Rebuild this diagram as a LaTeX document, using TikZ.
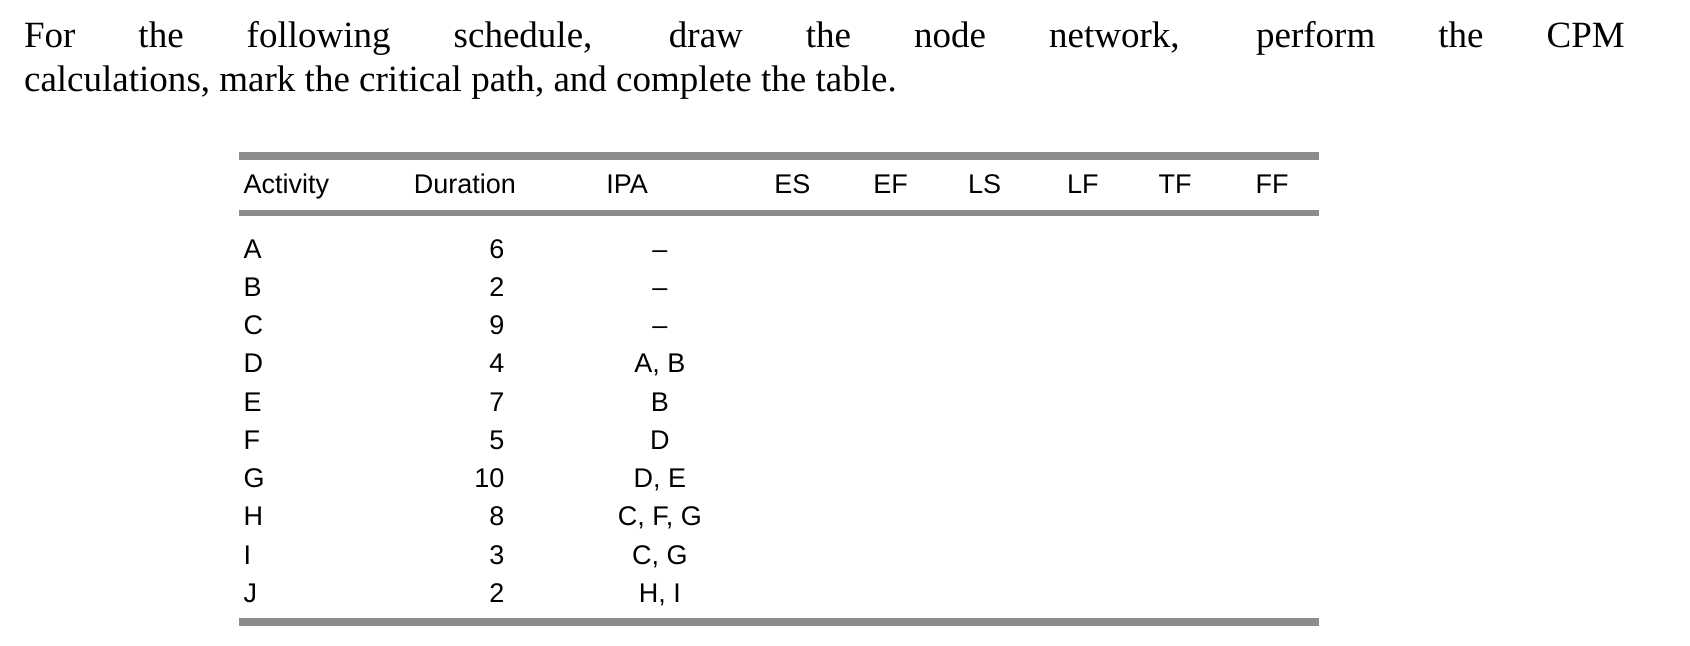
\documentclass[tikz,border=0pt]{standalone}
\usepackage{fontspec}
\setmainfont{Liberation Serif}
\newfontfamily\tabfont{Liberation Sans}
\begin{document}
\begin{tikzpicture}[x=0.538pt,y=-0.538pt,
  rulebar/.style={fill=black!45,draw=none},
  hd/.style={font=\tabfont\fontsize{13.5}{15}\selectfont,anchor=base west,inner sep=0},
  cell/.style={font=\tabfont\fontsize{13.5}{15}\selectfont,inner sep=0}]
\useasboundingbox (0,0) rectangle (1570,600);
\node[anchor=north west,inner sep=0,text width=800pt,align=justify,
  font=\fontsize{18.5}{21.5}\selectfont] (q) at (22,20)
  {For the following schedule, draw the node network, perform the CPM\linebreak calculations, mark the critical path, and complete the table.};
\fill[rulebar] (222,141) rectangle (1225,149);
\fill[rulebar] (222,195) rectangle (1225,201);
\fill[rulebar] (222,574) rectangle (1225,582);
\foreach \t/\x in {Activity/226,Duration/384,IPA/563,ES/719,EF/811,LS/899,LF/991,TF/1076,FF/1166}
  \node[hd] (h\t) at (\x,180) {\t};
\foreach \a/\d/\p [count=\i from 0] in {A/6/–,B/2/–,C/9/–,D/4/{A, B},E/7/B,F/5/D,G/10/{D, E},H/8/{C, F, G},I/3/{C, G},J/2/{H, I}}{
  \node[cell,anchor=base west] (a\a) at (226,{240+35.5*\i}) {\a};
  \node[cell,anchor=base east] (d\a) at (469,{240+35.5*\i}) {\d};
  \node[cell,anchor=base] (p\a) at (613,{240+35.5*\i}) {\p};
}
\end{tikzpicture}
\end{document}
